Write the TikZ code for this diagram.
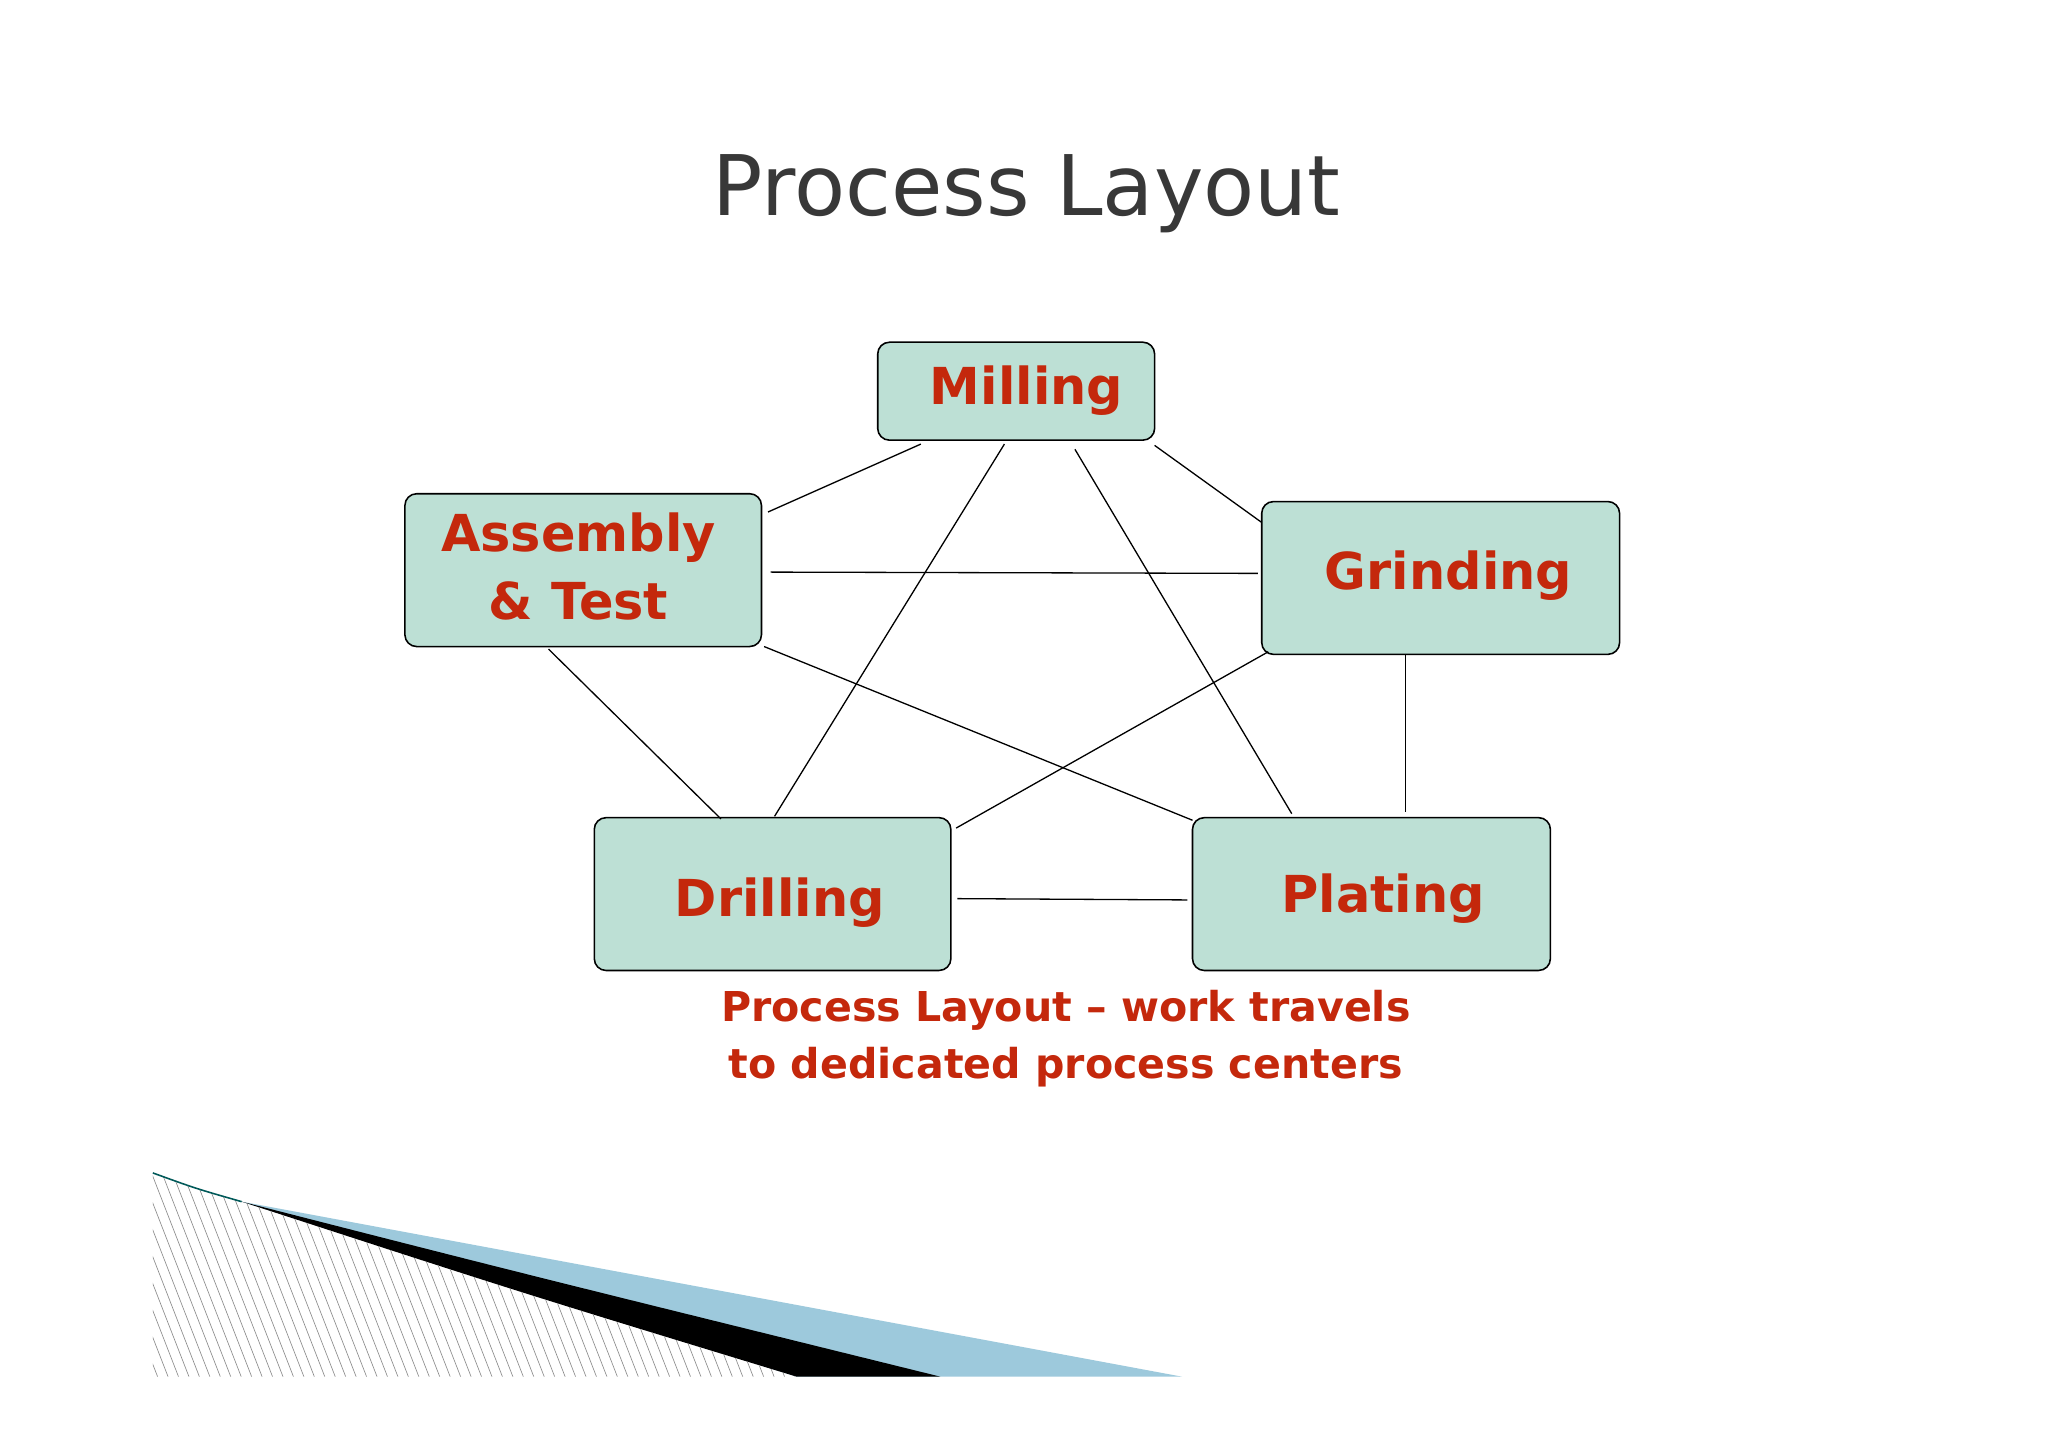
\documentclass[tikz,border=0pt]{standalone}
\usepackage{fontspec}
\setmainfont{DejaVu Sans}
\begin{document}
\begin{tikzpicture}[x=1pt,y=-1pt,
  box/.style={draw=black,line width=1.2pt,fill=boxfill,rounded corners=9pt,inner sep=0pt},
  lbl/.style={text=redt,font=\bfseries\fontsize{39}{44}\selectfont,align=center},
  con/.style={line width=1pt}]
\definecolor{boxfill}{HTML}{BDE0D5}
\definecolor{redt}{HTML}{C4280C}
\definecolor{bluew}{HTML}{9DC9DC}
\useasboundingbox (0,0) rectangle (1568,1109);
\fill[white] (0,0) rectangle (1568,1109);
% title
\node[text=black!78,font=\fontsize{64}{70}\selectfont] (title) at (786,148) {Process Layout};
% boxes
\node[box,minimum width=212pt,minimum height=75pt] (mil) at (778,299.5) {};
\node[box,minimum width=273pt,minimum height=117pt] (asm) at (446.5,436.5) {};
\node[box,minimum width=274pt,minimum height=117pt] (gri) at (1103,442.5) {};
\node[box,minimum width=273pt,minimum height=117pt] (dri) at (591.5,684.5) {};
\node[box,minimum width=274pt,minimum height=117pt] (pla) at (1050,684.5) {};
\node[lbl] (tmil) at (786,299) {Milling};
\node[lbl,font=\bfseries\fontsize{39}{52}\selectfont] (tasm) at (443,434) {Assembly\\\& Test};
\node[lbl] (tgri) at (1109,441) {Grinding};
\node[lbl] (tdri) at (597,691) {Drilling};
\node[lbl] (tpla) at (1059,688) {Plating};
% connector end points
\coordinate (a1) at (588,392); \coordinate (m1) at (705,340);
\coordinate (a2) at (590,438); \coordinate (g1) at (963,439);
\coordinate (a3) at (585,495); \coordinate (p1) at (913,628);
\coordinate (a4) at (420,497); \coordinate (d1) at (552,627);
\coordinate (m2) at (769,340); \coordinate (d2) at (593,625);
\coordinate (m3) at (823,344); \coordinate (p2) at (989,623);
\coordinate (m4) at (884,341); \coordinate (g2) at (966,400);
\coordinate (g3) at (971,499); \coordinate (d3) at (732,634);
\coordinate (g4) at (1076,501); \coordinate (p3) at (1076,622);
\coordinate (d4) at (733,688); \coordinate (p4) at (909,689);
\draw[con] (a1)--(m1); \draw[con] (a2)--(g1); \draw[con] (a3)--(p1);
\draw[con] (a4)--(d1); \draw[con] (m2)--(d2); \draw[con] (m3)--(p2);
\draw[con] (m4)--(g2); \draw[con] (g3)--(d3); \draw[con] (g4)--(p3);
\draw[con] (d4)--(p4);
% caption
\node[text=redt,font=\bfseries\fontsize{31.5}{44}\selectfont,align=center] (cap) at (816,795) {Process Layout -- work travels\\to dedicated process centers};
% decoration
\fill[bluew] (185,920) -- (905,1054) -- (610,1054) -- cycle;
\fill[black] (185,920) .. controls (400,975) .. (720,1054) -- (610,1054) .. controls (400,990) .. (185,920) -- cycle;
\begin{scope}
\clip (117,898) .. controls (150,910) .. (185,920) .. controls (400,990) .. (610,1054) -- (117,1054) -- cycle;
\foreach \i in {-200,-192,...,520} {\draw[black!45,line width=0.5pt] (117+\i,880) -- (117+\i+70,1060);}
\end{scope}
\draw[teal!70!black,line width=1.2pt] (117,898) .. controls (150,910) .. (185,920);
\end{tikzpicture}
\end{document}
